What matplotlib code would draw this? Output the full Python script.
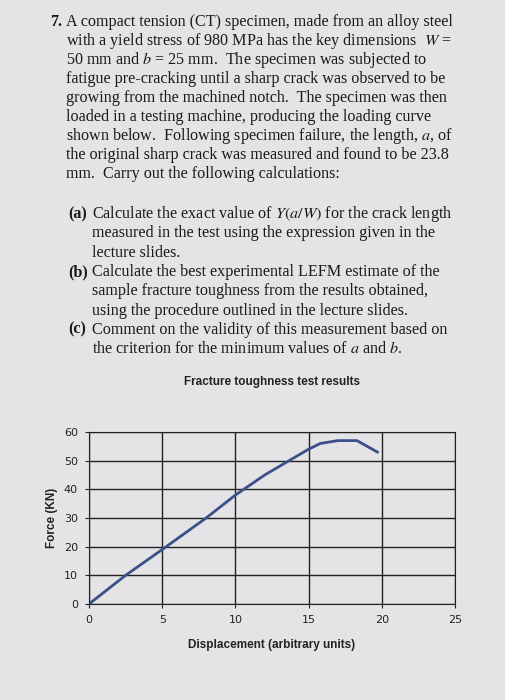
import matplotlib.pyplot as plt

# loading curve
disp = [0, 2.5, 5, 8, 10, 12, 14, 15, 15.8, 17, 18.3, 19, 19.7]
force = [0, 10, 19, 30, 38, 45, 51, 54, 56, 57, 57, 55, 53]
xticks = [0, 5, 10, 15, 20, 25]
yticks = [0, 10, 20, 30, 40, 50, 60]

intro = [
    "with a yield stress of 980 MPa has the key dimensions  $W$ =",
    "50 mm and $b$ = 25 mm.  The specimen was subjected to",
    "fatigue pre-cracking until a sharp crack was observed to be",
    "growing from the machined notch.  The specimen was then",
    "loaded in a testing machine, producing the loading curve",
    "shown below.  Following specimen failure, the length, $a$, of",
    "the original sharp crack was measured and found to be 23.8",
    "mm.  Carry out the following calculations:",
]
parts = [
    ("(a)", ["Calculate the exact value of $Y(a/W)$ for the crack length",
             "measured in the test using the expression given in the",
             "lecture slides."]),
    ("(b)", ["Calculate the best experimental LEFM estimate of the",
             "sample fracture toughness from the results obtained,",
             "using the procedure outlined in the lecture slides."]),
    ("(c)", ["Comment on the validity of this measurement based on",
             "the criterion for the minimum values of $a$ and $b$."]),
]

W, H = 505, 700
fig = plt.figure(figsize=(5.05, 7.0), dpi=100, facecolor='#e4e4e6')
plt.rcParams['mathtext.fontset'] = 'stix'
serif = dict(family='Liberation Serif', fontsize=11.6, color='#1a1a1a', va='center')

def put(x, y, s, **kw):
    fig.text(x / W, 1 - y / H, s, **{**serif, **kw})

put(50, 22, "7.", weight='bold')
put(66, 22, "A compact tension (CT) specimen, made from an alloy steel")
y = 41
for line in intro:
    put(66, y, line)
    y += 19
y = 214
for lab, lines in parts:
    put(68, y, lab, weight='bold')
    for line in lines:
        put(92, y, line)
        y += 19.3

ax = fig.add_axes([89 / W, 1 - 604 / H, (455 - 89) / W, (604 - 432) / H])
ax.set_facecolor('#e4e4e6')
ax.plot(disp, force, color='#3c4f88', lw=2)
ax.set_xlim(0, 25)
ax.set_ylim(0, 60)
ax.set_xticks(xticks)
ax.set_yticks(yticks)
ax.grid(True, color='#222222', lw=1)
for s in ax.spines.values():
    s.set_color('#222222')
ax.tick_params(labelsize=8, colors='#222222', length=3, pad=5)
sans = dict(family='Liberation Sans', weight='bold', fontsize=8.5, color='#222222')
ax.set_xlabel('Displacement (arbitrary units)', labelpad=10, **sans)
ax.set_ylabel('Force (KN)', **sans)
ax.set_title('Fracture toughness test results', pad=34, **sans)

fig.savefig('out.png', facecolor=fig.get_facecolor())
